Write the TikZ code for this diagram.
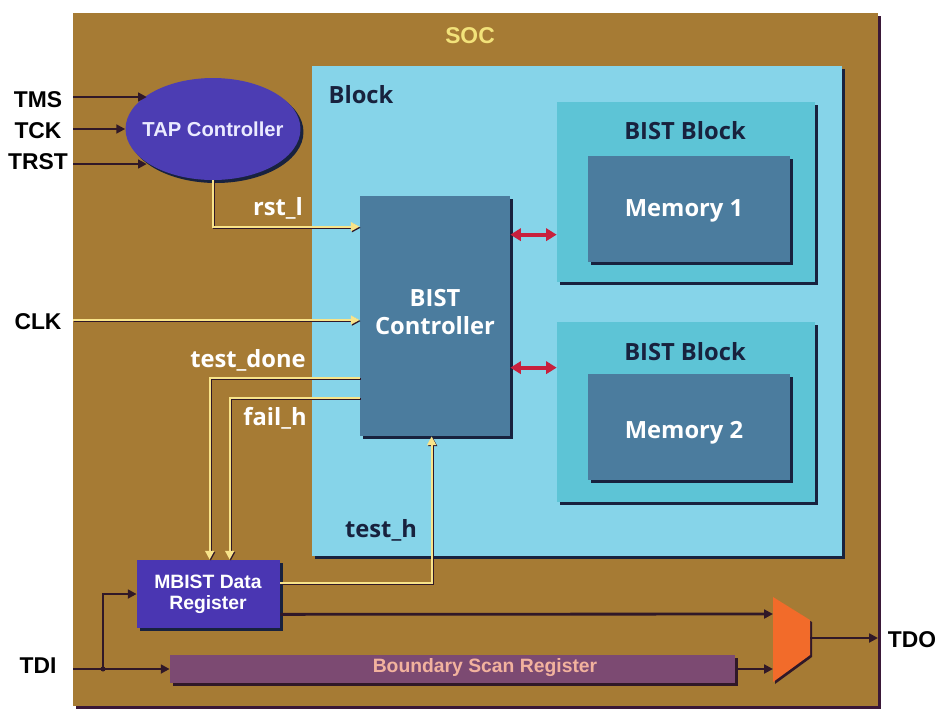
\documentclass[tikz,border=0pt]{standalone}
\usepackage{fontspec}
\setmainfont{Liberation Sans}
\newfontfamily\osans{Open Sans}
\usetikzlibrary{shapes.geometric,shadows,fit,arrows.meta,calc}
\definecolor{socbrown}{HTML}{A67B34}
\definecolor{socedge}{HTML}{3A1838}
\definecolor{blockblue}{HTML}{86D4E9}
\definecolor{bistblue}{HTML}{5DC4D6}
\definecolor{memblue}{HTML}{4B7C9E}
\definecolor{navy}{HTML}{18223E}
\definecolor{tapblue}{HTML}{4C3DB3}
\definecolor{mbistblue}{HTML}{4A36B2}
\definecolor{bsrpurple}{HTML}{7C4A72}
\definecolor{bsrtext}{HTML}{F2B29E}
\definecolor{muxorange}{HTML}{F26B2A}
\definecolor{redarrow}{HTML}{C8203C}
\definecolor{sigyellow}{HTML}{F8E48A}
\definecolor{soctext}{HTML}{F2E27A}
\definecolor{darkline}{HTML}{301828}
\begin{document}
\begin{tikzpicture}[x=0.02cm,y=-0.02cm,
  shad/.style={drop shadow={shadow xshift=0.06cm,shadow yshift=-0.06cm,fill=#1,opacity=1}},
  boxnode/.style={inner sep=0pt,draw=none},
  lbl/.style={font=\fontsize{13}{15}\selectfont\bfseries,text=black},
  olbl/.style={font=\osans\fontsize{13.5}{16}\selectfont\bfseries},
  alb/.style={font=\fontsize{11}{13}\selectfont\bfseries,align=center},
  yline/.style={draw=sigyellow,line width=1.2pt,-{Triangle[length=5pt,width=5pt]},
     preaction={draw=darkline,line width=1.2pt,transform canvas={xshift=0.6pt,yshift=-0.6pt}}},
  dline/.style={draw=darkline,line width=1.6pt,-{Triangle[length=5pt,width=5pt]}},
  rline/.style={draw=redarrow,line width=2.4pt,{Triangle[length=6pt,width=7pt]}-{Triangle[length=6pt,width=7pt]}}
]
\useasboundingbox (0,0) rectangle (950,724);
\fill[white] (0,0) rectangle (950,724);

% SOC
\node[boxnode,fill=socbrown,shad=socedge,fit={(73,13) (878,706)}] (soc) {};
\node[font=\fontsize{13}{15}\selectfont\bfseries,text=soctext] (soclbl) at (470,36) {SOC};

% Block
\node[boxnode,fill=blockblue,shad=navy,fit={(312,66) (842,556)}] (block) {};
\node[olbl,text=navy] (blocklbl) at (361,95) {Block};

% BIST blocks
\node[boxnode,fill=bistblue,shad=navy,fit={(557,102) (815,282)}] (bb1) {};
\node[olbl,text=navy] (bb1lbl) at (685,131) {BIST Block};
\node[boxnode,fill=memblue,shad=navy,fit={(588,156) (790,262)}] (mem1) {};
\node[olbl,text=white] (mem1lbl) at (684,211) {Memory 1};

\node[boxnode,fill=bistblue,shad=navy,fit={(557,322) (815,502)}] (bb2) {};
\node[olbl,text=navy] (bb2lbl) at (685,352) {BIST Block};
\node[boxnode,fill=memblue,shad=navy,fit={(588,374) (790,480)}] (mem2) {};
\node[olbl,text=white] (mem2lbl) at (684,433) {Memory 2};

% BIST controller
\node[boxnode,fill=memblue,shad=navy,fit={(360,196) (510,436)}] (ctrl) {};
\node[olbl,text=white,align=center] (ctrllbl) at (435,312) {BIST\\[0pt]Controller};

% TAP controller
\node[ellipse,fill=tapblue,shad=navy,minimum width=3.5cm,minimum height=2.04cm,inner sep=0pt] (tap) at (213,129) {};
\node[font=\fontsize{11.5}{13}\selectfont\bfseries,text=white!92!blue] (taplbl) at (213,129) {TAP Controller};

% MBIST data register
\node[boxnode,fill=mbistblue,shad=navy,fit={(137,560) (280,628)}] (mbist) {};
\node[alb,text=white] (mbistlbl) at (208,594) {MBIST Data\\[-1pt]Register};

% Boundary scan register
\node[boxnode,fill=bsrpurple,shad=darkline,fit={(170,655) (735,683)}] (bsr) {};
\node[alb,text=bsrtext] (bsrlbl) at (485,668) {Boundary Scan Register};

% MUX
\fill[darkline] (775,599) -- (812,622) -- (812,657) -- (775,684) -- cycle;
\fill[muxorange] (773,597) -- (810,620) -- (810,655) -- (773,682) -- cycle;
\coordinate (muxa) at (773,614);
\coordinate (muxb) at (773,669);
\coordinate (muxo) at (810,638);

% external labels
\node[lbl] (tms) at (38,100) {TMS};
\node[lbl] (tck) at (38,131) {TCK};
\node[lbl] (trst) at (38,162) {TRST};
\node[lbl] (clk) at (38,322) {CLK};
\node[lbl] (tdi) at (38,666) {TDI};
\node[lbl] (tdo) at (912,640) {TDO};

\coordinate (tmsin) at (73,97);
\coordinate (tckin) at (73,129);
\coordinate (trstin) at (73,164);
\coordinate (clkin) at (73,320);
\coordinate (tdiin) at (73,669);
\coordinate (tdoout) at (878,638);
\coordinate (tdibr) at (103,669);

% JTAG inputs
\draw[dline] (tmsin) -- (tmsin -| tap.153);
\draw[dline] (tckin) -- (tap.west);
\draw[dline] (trstin) -- (trstin -| tap.207);

% rst_l
\coordinate (rstend) at ($(ctrl.north west)+(0,31)$);
\draw[yline] (tap.south) |- (rstend);
\node[olbl,text=white] (rstlbl) at (278,208) {rst\_l};

% CLK
\draw[yline] (clkin) -- (clkin -| ctrl.west);

% test_done, fail_h
\coordinate (tdstart) at ($(ctrl.north west)+(0,182)$);
\coordinate (fhstart) at ($(ctrl.north west)+(0,202)$);
\draw[yline] (tdstart) -| ($(mbist.north west)+(73,0)$);
\draw[yline] (fhstart) -| ($(mbist.north west)+(93,0)$);
\node[olbl,text=white] (tdlbl) at (248,360) {test\_done};
\node[olbl,text=white] (fhlbl) at (275,418) {fail\_h};

% test_h
\draw[yline] ($(mbist.north east)+(0,23)$) -| ($(ctrl.south west)+(72,0)$);
\node[olbl,text=navy] (thlbl) at (381,530) {test\_h};

% red arrows
\coordinate (r1) at ($(ctrl.north east)+(0,39)$);
\coordinate (r2) at ($(ctrl.north east)+(0,172)$);
\draw[rline] (r1) -- (r1 -| bb1.west);
\draw[rline] (r2) -- (r2 -| bb2.west);

% TDI paths
\draw[dline] (tdiin) -- (bsr.west);
\draw[dline] (tdibr) |- (mbist.west);
\fill[darkline] (tdibr) circle (2.5);

% to mux and TDO
\draw[dline] ($(mbist.south east)+(0,-14)$) -- (muxa);
\draw[dline] (bsr.east) -- (muxb);
\draw[dline] (muxo) -- (tdoout);
\end{tikzpicture}
\end{document}
